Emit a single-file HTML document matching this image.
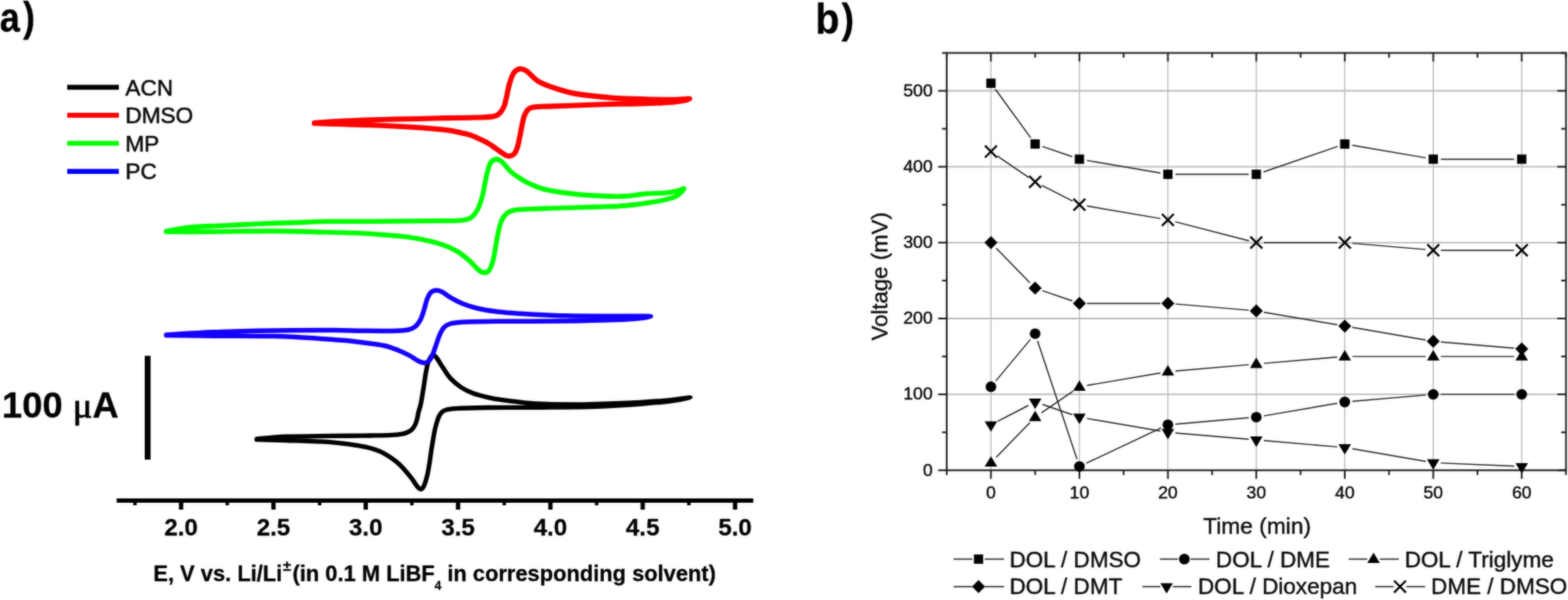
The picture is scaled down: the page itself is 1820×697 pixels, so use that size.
<!DOCTYPE html>
<html lang="en">
<head>
<meta charset="utf-8">
<title>Figure: cyclic voltammograms and voltage vs. time</title>
<style>
html,body{margin:0;padding:0;background:#fff;}
body{width:1820px;height:697px;overflow:hidden;}
svg{display:block;}
text{font-family:"Liberation Sans",sans-serif;fill:#0a0a0a;}
.r{stroke:#0a0a0a;stroke-width:0.45px;stroke-linejoin:round;}
.b{font-weight:bold;fill:#000;stroke:#000;stroke-width:0.3px;}
.cv{fill:none;stroke-linecap:round;stroke-linejoin:round;}
</style>
</head>
<body>
<svg width="1820" height="697" viewBox="0 0 1820 697">
<defs><filter id="soft" x="0" y="0" width="100%" height="100%" filterUnits="userSpaceOnUse" color-interpolation-filters="sRGB"><feGaussianBlur in="SourceGraphic" stdDeviation="0.9" result="bl"/><feComposite in="SourceGraphic" in2="bl" operator="arithmetic" k1="0" k2="0.45" k3="0.55" k4="0"/></filter></defs>
<rect x="0" y="0" width="1820" height="697" fill="#fff"/>
<g filter="url(#soft)">
<rect x="-10" y="-10" width="1840" height="717" fill="#fff"/>
<g id="panel-a">
<text class="b" transform="translate(-0.3,36.8) scale(0.86,1)" font-size="48.7">a<tspan dx="4.4" dy="-1.3" font-size="48.3">)</tspan></text>
<line x1="78" y1="101.3" x2="138" y2="101.3" stroke="#000" stroke-width="5.7"/>
<text class="r" style="stroke-width:0.6px" x="145.4" y="110.6" font-size="26.3">ACN</text>
<line x1="78" y1="133.9" x2="138" y2="133.9" stroke="#ff0000" stroke-width="5.7"/>
<text class="r" style="stroke-width:0.6px" x="145.4" y="143.2" font-size="26.3">DMSO</text>
<line x1="78" y1="166.5" x2="138" y2="166.5" stroke="#00ff00" stroke-width="5.7"/>
<text class="r" style="stroke-width:0.6px" x="145.4" y="175.8" font-size="26.3">MP</text>
<line x1="78" y1="199.1" x2="138" y2="199.1" stroke="#0000ff" stroke-width="5.7"/>
<text class="r" style="stroke-width:0.6px" x="145.4" y="208.4" font-size="26.3">PC</text>
<path class="cv" d="M298.0 510.0C303.6 509.5 317.5 507.8 331.7 507.2C345.9 506.6 368.6 506.6 383.3 506.4C398.0 506.2 411.4 506.3 420.0 506.2C428.6 506.1 429.3 506.0 435.0 505.9C440.7 505.8 448.9 505.6 454.4 505.3C459.9 505.0 464.8 504.4 468.2 503.8C471.6 503.2 472.7 502.5 474.5 501.5C476.3 500.5 477.7 499.5 479.0 498.0C480.3 496.5 481.4 494.5 482.3 492.5C483.2 490.5 483.7 488.3 484.3 486.0C484.9 483.7 485.1 481.4 485.8 478.6C486.5 475.8 487.5 473.8 488.5 469.0C489.5 464.2 490.7 456.0 491.7 450.0C492.7 444.0 493.4 437.8 494.3 433.0C495.2 428.2 495.8 424.6 496.8 421.5C497.8 418.4 499.2 415.6 500.2 414.2C501.2 412.8 501.9 412.7 503.0 412.9C504.1 413.1 504.8 413.1 506.7 415.5C508.6 417.9 511.7 423.5 514.4 427.5C517.1 431.5 519.5 435.9 523.0 439.6C526.5 443.3 530.8 447.0 535.1 449.9C539.4 452.8 543.7 454.9 548.9 456.8C554.1 458.8 560.4 460.3 566.1 461.6C571.8 462.9 576.1 463.7 583.3 464.7C590.5 465.7 600.5 467.0 609.1 467.8C617.7 468.6 625.6 469.1 634.9 469.5C644.2 469.9 655.5 469.9 665.0 469.9C674.5 469.9 678.6 469.8 691.6 469.4C704.6 469.0 728.9 468.1 743.3 467.3C757.6 466.5 768.0 465.7 777.7 464.8C787.4 463.9 801.3 461.6 801.3 461.8C801.3 462.0 787.4 464.8 777.7 466.0C768.0 467.2 757.6 468.2 743.3 469.3C728.9 470.4 708.8 471.7 691.6 472.3C674.4 472.9 652.3 473.0 640.0 473.2C627.7 473.4 630.0 473.2 617.7 473.3C605.4 473.4 580.4 473.3 566.1 473.5C551.8 473.7 539.9 473.9 531.9 474.3C523.9 474.7 521.4 475.3 518.2 476.0C515.1 476.7 514.5 477.3 513.0 478.6C511.6 479.9 510.5 481.8 509.5 483.8C508.5 485.8 507.9 487.8 507.0 490.7C506.1 493.6 505.4 495.8 504.4 501.0C503.4 506.2 501.9 515.4 500.9 521.7C499.9 528.0 499.2 533.7 498.4 538.9C497.5 544.1 496.8 548.6 495.8 552.7C494.8 556.8 493.6 560.9 492.5 563.5C491.4 566.1 490.1 567.9 488.9 568.3C487.6 568.7 487.0 568.3 485.0 566.0C483.0 563.7 480.4 558.9 476.8 554.4C473.2 549.9 468.3 543.5 463.1 538.9C457.9 534.3 450.7 529.7 445.8 526.8C440.9 523.9 438.1 523.1 433.8 521.7C429.5 520.3 424.1 519.3 420.0 518.5C415.9 517.7 415.2 517.5 409.1 516.7C403.0 515.9 396.2 514.5 383.3 513.6C370.4 512.8 345.9 512.1 331.7 511.6C317.5 511.1 303.6 510.8 298.0 510.6" stroke="#000" stroke-width="5.3"/>
<path class="cv" d="M365.0 142.7C370.8 142.3 389.1 141.2 400.0 140.6C410.9 140.0 418.6 139.7 430.3 139.3C442.0 138.9 456.6 138.6 470.0 138.3C483.4 138.0 498.1 137.6 510.6 137.3C523.1 137.0 536.6 136.9 545.0 136.7C553.4 136.5 556.6 136.5 560.8 136.3C565.0 136.1 567.8 135.9 570.2 135.6C572.6 135.3 573.6 135.1 575.0 134.6C576.4 134.1 577.3 133.8 578.5 132.8C579.7 131.8 581.3 130.1 582.4 128.5C583.5 126.9 584.4 125.4 585.3 123.0C586.2 120.6 586.6 118.3 587.6 114.2C588.6 110.1 589.7 103.1 591.1 98.2C592.5 93.3 594.1 88.1 596.1 85.1C598.1 82.1 600.7 80.5 603.2 80.1C605.7 79.7 607.7 80.2 611.2 82.5C614.7 84.8 619.4 91.0 624.3 94.1C629.1 97.2 634.3 99.0 640.3 101.2C646.3 103.4 653.7 105.6 660.4 107.2C667.1 108.8 670.5 109.4 680.5 110.6C690.5 111.8 707.2 113.6 720.6 114.4C734.0 115.2 750.8 115.4 760.8 115.6C770.8 115.8 774.3 115.8 780.9 115.7C787.5 115.6 800.5 114.5 800.5 115.0C800.5 115.5 790.9 117.7 780.9 118.6C770.9 119.5 754.1 120.0 740.7 120.4C727.3 120.8 714.0 120.8 700.6 121.2C687.2 121.6 671.3 122.3 660.4 122.7C649.5 123.1 641.6 123.3 635.0 123.6C628.4 123.9 624.6 123.7 621.0 124.3C617.4 124.9 615.3 125.2 613.2 127.0C611.1 128.8 609.7 131.6 608.4 135.1C607.1 138.6 606.3 143.9 605.4 148.1C604.5 152.3 603.9 156.5 603.1 160.2C602.3 163.9 601.8 167.1 600.8 170.2C599.8 173.3 598.5 176.8 597.0 178.6C595.5 180.4 593.2 181.0 591.6 181.3C590.0 181.6 588.9 181.2 587.3 180.5C585.7 179.8 584.2 178.6 582.2 177.2C580.2 175.8 578.0 174.1 575.2 172.2C572.4 170.3 568.6 167.6 565.2 165.7C561.9 163.8 558.5 162.2 555.1 160.7C551.8 159.2 549.0 157.8 545.1 156.6C541.2 155.4 536.2 154.5 532.0 153.6C527.8 152.7 523.6 151.9 520.0 151.3C516.4 150.7 518.9 150.9 510.6 150.2C502.4 149.5 483.9 148.1 470.5 147.3C457.1 146.5 442.1 145.8 430.3 145.3C418.6 144.8 410.9 144.6 400.0 144.3C389.1 144.0 370.8 143.5 365.0 143.3" stroke="#ff0000" stroke-width="6.1"/>
<path class="cv" d="M193.0 268.6C197.5 267.8 209.0 265.1 220.2 264.0C231.4 262.9 246.6 262.7 260.0 262.0C273.4 261.3 287.2 260.6 300.5 260.0C313.8 259.4 326.6 259.1 340.0 258.6C353.4 258.2 365.8 257.5 380.8 257.3C395.8 257.1 412.0 257.3 430.0 257.2C448.0 257.1 473.9 256.9 488.9 256.8C503.9 256.7 512.4 256.6 520.0 256.5C527.6 256.4 530.4 256.7 534.8 256.1C539.2 255.5 543.0 255.2 546.3 253.1C549.5 251.0 552.0 247.8 554.3 243.5C556.6 239.2 558.3 233.9 560.0 227.4C561.7 220.9 563.1 210.7 564.6 204.4C566.1 198.1 567.3 192.8 569.2 189.5C571.1 186.2 573.8 185.1 576.1 184.9C578.4 184.7 580.3 186.1 583.0 188.4C585.7 190.7 589.2 195.8 592.2 198.7C595.2 201.5 597.4 203.1 601.0 205.5C604.6 207.9 608.2 210.5 613.8 213.0C619.4 215.5 625.2 218.4 634.4 220.5C643.6 222.6 657.4 224.4 668.9 225.6C680.4 226.8 693.7 227.5 703.3 227.9C712.9 228.3 718.6 228.4 726.3 227.9C733.9 227.4 741.6 225.8 749.2 225.1C756.9 224.4 766.1 224.6 772.2 224.0C778.3 223.4 782.4 222.5 786.0 221.7C789.6 220.9 794.4 218.2 794.0 219.3C793.6 220.4 789.2 226.0 783.7 228.5C778.2 231.0 770.3 232.6 760.7 234.3C751.1 236.0 737.8 237.9 726.3 238.9C714.8 239.9 705.2 239.9 691.8 240.4C678.4 240.9 656.8 241.4 645.9 241.7C635.0 242.0 634.4 242.1 626.6 242.4C618.8 242.8 605.4 242.9 599.1 243.8C592.8 244.7 591.6 245.4 588.7 247.6C585.8 249.8 583.7 252.5 581.8 257.2C579.9 261.9 578.7 268.3 577.2 275.6C575.7 282.9 574.2 294.6 572.7 300.9C571.2 307.2 569.8 310.8 568.1 313.5C566.4 316.2 564.4 316.9 562.3 316.9C560.2 316.9 558.4 316.0 555.4 313.5C552.4 311.0 548.2 305.6 544.0 302.0C539.8 298.4 535.6 294.8 530.2 291.7C524.8 288.6 518.7 285.9 511.8 283.6C504.9 281.3 496.5 279.4 488.9 277.9C481.2 276.4 473.5 275.4 465.9 274.5C458.2 273.6 450.6 273.2 443.0 272.6C435.4 272.0 430.4 271.5 420.0 271.0C409.6 270.5 397.4 270.2 380.8 269.8C364.2 269.4 340.7 268.5 320.6 268.4C300.5 268.3 276.7 268.8 260.0 269.0C243.3 269.2 231.4 269.4 220.2 269.4C209.0 269.4 197.5 269.2 193.0 269.2" stroke="#00ff00" stroke-width="5.6"/>
<path class="cv" d="M193.0 388.9C202.3 388.4 228.1 386.6 248.9 385.8C269.7 385.0 294.8 384.4 317.7 384.0C340.6 383.6 369.6 383.6 386.6 383.6C403.7 383.7 408.7 384.2 420.0 384.3C431.3 384.4 445.5 384.6 454.4 384.4C463.3 384.2 468.8 384.1 473.4 383.3C478.0 382.5 479.6 381.3 482.0 379.4C484.4 377.4 486.3 374.9 488.0 371.6C489.7 368.3 491.0 363.6 492.3 359.6C493.6 355.6 494.4 350.8 495.7 347.5C497.0 344.2 498.3 341.5 500.0 339.8C501.7 338.1 504.0 337.4 506.1 337.2C508.2 337.0 510.0 337.5 512.9 338.9C515.8 340.3 519.3 343.5 523.3 345.8C527.3 348.1 531.8 350.6 537.0 352.7C542.2 354.8 548.0 356.7 554.3 358.2C560.6 359.7 568.6 360.9 574.9 361.8C581.2 362.7 585.5 363.0 592.1 363.5C598.7 364.0 603.5 364.3 614.4 364.9C625.3 365.4 643.1 366.4 657.5 366.8C671.9 367.2 687.6 367.2 700.5 367.3C713.4 367.4 725.7 367.3 734.9 367.3C744.1 367.3 755.5 366.9 755.5 367.5C755.5 368.1 744.1 369.9 734.9 370.6C725.7 371.4 714.9 371.6 700.5 372.0C686.1 372.4 669.7 372.8 648.8 373.0C627.9 373.2 592.9 373.1 574.9 373.3C556.9 373.5 549.1 373.6 540.5 374.0C531.9 374.4 527.5 374.9 523.3 375.9C519.1 376.9 517.6 378.0 515.5 380.2C513.4 382.4 512.0 385.4 510.4 388.8C508.8 392.2 507.5 396.9 506.1 400.9C504.7 404.9 503.2 409.8 501.8 412.9C500.4 416.0 499.1 418.4 497.5 419.8C495.9 421.2 494.2 421.5 492.3 421.5C490.4 421.5 489.2 421.2 486.3 419.8C483.4 418.4 479.0 415.0 475.1 412.9C471.2 410.8 467.9 409.1 463.0 407.2C458.1 405.3 453.0 403.1 445.8 401.5C438.6 399.9 427.0 398.6 420.0 397.7C413.0 396.8 412.2 396.6 403.8 395.8C395.4 395.1 383.8 394.1 369.4 393.2C355.0 392.3 337.8 391.1 317.7 390.6C297.6 390.1 269.7 390.4 248.9 390.2C228.1 390.0 202.3 389.6 193.0 389.5" stroke="#1400ff" stroke-width="5.5"/>
<rect x="168" y="413.3" width="6.8" height="120.6" fill="#000"/>
<text class="b" x="2.2" y="484.8" font-size="42.3">100 <tspan font-family="'Liberation Serif',serif" font-weight="normal" stroke="#000" stroke-width="0.9">μ</tspan>A</text>
<rect x="135.4" y="579" width="739" height="5" fill="#000"/>
<rect x="154.6" y="582" width="4" height="5" fill="#000"/>
<rect x="207.7" y="582" width="5" height="10" fill="#000"/>
<text class="b" x="210.2" y="622.3" font-size="28" text-anchor="middle">2.0</text>
<rect x="261.8" y="582" width="4" height="5" fill="#000"/>
<rect x="314.9" y="582" width="5" height="10" fill="#000"/>
<text class="b" x="317.4" y="622.3" font-size="28" text-anchor="middle">2.5</text>
<rect x="369.0" y="582" width="4" height="5" fill="#000"/>
<rect x="422.0" y="582" width="5" height="10" fill="#000"/>
<text class="b" x="424.5" y="622.3" font-size="28" text-anchor="middle">3.0</text>
<rect x="476.1" y="582" width="4" height="5" fill="#000"/>
<rect x="529.2" y="582" width="5" height="10" fill="#000"/>
<text class="b" x="531.7" y="622.3" font-size="28" text-anchor="middle">3.5</text>
<rect x="583.3" y="582" width="4" height="5" fill="#000"/>
<rect x="636.4" y="582" width="5" height="10" fill="#000"/>
<text class="b" x="638.9" y="622.3" font-size="28" text-anchor="middle">4.0</text>
<rect x="690.5" y="582" width="4" height="5" fill="#000"/>
<rect x="743.5" y="582" width="5" height="10" fill="#000"/>
<text class="b" x="746.0" y="622.3" font-size="28" text-anchor="middle">4.5</text>
<rect x="797.6" y="582" width="4" height="5" fill="#000"/>
<rect x="850.7" y="582" width="5" height="10" fill="#000"/>
<text class="b" x="853.2" y="622.3" font-size="28" text-anchor="middle">5.0</text>
<text class="b" font-size="25.4"><tspan x="178" y="674.8">E, V vs. Li/Li</tspan><tspan x="328.6" y="662.8" font-size="17">±</tspan><tspan x="339.5" y="674.8">(in 0.1 M LiBF</tspan><tspan x="504.6" y="684.7" font-size="14">4</tspan><tspan x="512.2" y="674.8"> in corresponding solvent)</tspan></text>
</g>
<g id="panel-b">
<text class="b" transform="translate(946.6,38.6) scale(0.91,1)" font-size="50">b<tspan dx="2.6" dy="-1" font-size="48.3">)</tspan></text>
<line x1="1150.2" y1="61.5" x2="1150.2" y2="546.3" stroke="#a4a4a4" stroke-width="1"/>
<line x1="1252.9" y1="61.5" x2="1252.9" y2="546.3" stroke="#a4a4a4" stroke-width="1"/>
<line x1="1355.6" y1="61.5" x2="1355.6" y2="546.3" stroke="#a4a4a4" stroke-width="1"/>
<line x1="1458.2" y1="61.5" x2="1458.2" y2="546.3" stroke="#a4a4a4" stroke-width="1"/>
<line x1="1560.9" y1="61.5" x2="1560.9" y2="546.3" stroke="#a4a4a4" stroke-width="1"/>
<line x1="1663.6" y1="61.5" x2="1663.6" y2="546.3" stroke="#a4a4a4" stroke-width="1"/>
<line x1="1766.3" y1="61.5" x2="1766.3" y2="546.3" stroke="#a4a4a4" stroke-width="1"/>
<line x1="1098.9" y1="458.1" x2="1817.6" y2="458.1" stroke="#bcbcbc" stroke-width="1.8"/>
<line x1="1098.9" y1="370.0" x2="1817.6" y2="370.0" stroke="#bcbcbc" stroke-width="1.8"/>
<line x1="1098.9" y1="281.8" x2="1817.6" y2="281.8" stroke="#bcbcbc" stroke-width="1.8"/>
<line x1="1098.9" y1="193.7" x2="1817.6" y2="193.7" stroke="#bcbcbc" stroke-width="1.8"/>
<line x1="1098.9" y1="105.5" x2="1817.6" y2="105.5" stroke="#bcbcbc" stroke-width="1.8"/>
<rect x="1098.9" y="61.5" width="718.8" height="484.8" fill="none" stroke="#1c1c1c" stroke-width="2"/>
<line x1="1098.9" y1="546.3" x2="1098.9" y2="551.8" stroke="#1c1c1c" stroke-width="2"/>
<line x1="1098.9" y1="61.5" x2="1098.9" y2="67.0" stroke="#1c1c1c" stroke-width="2"/>
<line x1="1150.2" y1="546.3" x2="1150.2" y2="556.3" stroke="#1c1c1c" stroke-width="2"/>
<line x1="1150.2" y1="61.5" x2="1150.2" y2="71.5" stroke="#1c1c1c" stroke-width="2"/>
<text class="r" x="1150.2" y="579.3" font-size="20.5" text-anchor="middle">0</text>
<line x1="1201.5" y1="546.3" x2="1201.5" y2="551.8" stroke="#1c1c1c" stroke-width="2"/>
<line x1="1201.5" y1="61.5" x2="1201.5" y2="67.0" stroke="#1c1c1c" stroke-width="2"/>
<line x1="1252.9" y1="546.3" x2="1252.9" y2="556.3" stroke="#1c1c1c" stroke-width="2"/>
<line x1="1252.9" y1="61.5" x2="1252.9" y2="71.5" stroke="#1c1c1c" stroke-width="2"/>
<text class="r" x="1252.9" y="579.3" font-size="20.5" text-anchor="middle">10</text>
<line x1="1304.2" y1="546.3" x2="1304.2" y2="551.8" stroke="#1c1c1c" stroke-width="2"/>
<line x1="1304.2" y1="61.5" x2="1304.2" y2="67.0" stroke="#1c1c1c" stroke-width="2"/>
<line x1="1355.6" y1="546.3" x2="1355.6" y2="556.3" stroke="#1c1c1c" stroke-width="2"/>
<line x1="1355.6" y1="61.5" x2="1355.6" y2="71.5" stroke="#1c1c1c" stroke-width="2"/>
<text class="r" x="1355.6" y="579.3" font-size="20.5" text-anchor="middle">20</text>
<line x1="1406.9" y1="546.3" x2="1406.9" y2="551.8" stroke="#1c1c1c" stroke-width="2"/>
<line x1="1406.9" y1="61.5" x2="1406.9" y2="67.0" stroke="#1c1c1c" stroke-width="2"/>
<line x1="1458.2" y1="546.3" x2="1458.2" y2="556.3" stroke="#1c1c1c" stroke-width="2"/>
<line x1="1458.2" y1="61.5" x2="1458.2" y2="71.5" stroke="#1c1c1c" stroke-width="2"/>
<text class="r" x="1458.2" y="579.3" font-size="20.5" text-anchor="middle">30</text>
<line x1="1509.6" y1="546.3" x2="1509.6" y2="551.8" stroke="#1c1c1c" stroke-width="2"/>
<line x1="1509.6" y1="61.5" x2="1509.6" y2="67.0" stroke="#1c1c1c" stroke-width="2"/>
<line x1="1560.9" y1="546.3" x2="1560.9" y2="556.3" stroke="#1c1c1c" stroke-width="2"/>
<line x1="1560.9" y1="61.5" x2="1560.9" y2="71.5" stroke="#1c1c1c" stroke-width="2"/>
<text class="r" x="1560.9" y="579.3" font-size="20.5" text-anchor="middle">40</text>
<line x1="1612.3" y1="546.3" x2="1612.3" y2="551.8" stroke="#1c1c1c" stroke-width="2"/>
<line x1="1612.3" y1="61.5" x2="1612.3" y2="67.0" stroke="#1c1c1c" stroke-width="2"/>
<line x1="1663.6" y1="546.3" x2="1663.6" y2="556.3" stroke="#1c1c1c" stroke-width="2"/>
<line x1="1663.6" y1="61.5" x2="1663.6" y2="71.5" stroke="#1c1c1c" stroke-width="2"/>
<text class="r" x="1663.6" y="579.3" font-size="20.5" text-anchor="middle">50</text>
<line x1="1714.9" y1="546.3" x2="1714.9" y2="551.8" stroke="#1c1c1c" stroke-width="2"/>
<line x1="1714.9" y1="61.5" x2="1714.9" y2="67.0" stroke="#1c1c1c" stroke-width="2"/>
<line x1="1766.3" y1="546.3" x2="1766.3" y2="556.3" stroke="#1c1c1c" stroke-width="2"/>
<line x1="1766.3" y1="61.5" x2="1766.3" y2="71.5" stroke="#1c1c1c" stroke-width="2"/>
<text class="r" x="1766.3" y="579.3" font-size="20.5" text-anchor="middle">60</text>
<line x1="1817.6" y1="546.3" x2="1817.6" y2="551.8" stroke="#1c1c1c" stroke-width="2"/>
<line x1="1817.6" y1="61.5" x2="1817.6" y2="67.0" stroke="#1c1c1c" stroke-width="2"/>
<line x1="1088.9" y1="546.3" x2="1098.9" y2="546.3" stroke="#1c1c1c" stroke-width="2"/>
<line x1="1807.6" y1="546.3" x2="1817.6" y2="546.3" stroke="#1c1c1c" stroke-width="2"/>
<text class="r" x="1082.7" y="552.5" font-size="20.5" text-anchor="end">0</text>
<line x1="1093.4" y1="502.2" x2="1098.9" y2="502.2" stroke="#1c1c1c" stroke-width="2"/>
<line x1="1812.1" y1="502.2" x2="1817.6" y2="502.2" stroke="#1c1c1c" stroke-width="2"/>
<line x1="1088.9" y1="458.1" x2="1098.9" y2="458.1" stroke="#1c1c1c" stroke-width="2"/>
<line x1="1807.6" y1="458.1" x2="1817.6" y2="458.1" stroke="#1c1c1c" stroke-width="2"/>
<text class="r" x="1082.7" y="464.3" font-size="20.5" text-anchor="end">100</text>
<line x1="1093.4" y1="414.1" x2="1098.9" y2="414.1" stroke="#1c1c1c" stroke-width="2"/>
<line x1="1812.1" y1="414.1" x2="1817.6" y2="414.1" stroke="#1c1c1c" stroke-width="2"/>
<line x1="1088.9" y1="370.0" x2="1098.9" y2="370.0" stroke="#1c1c1c" stroke-width="2"/>
<line x1="1807.6" y1="370.0" x2="1817.6" y2="370.0" stroke="#1c1c1c" stroke-width="2"/>
<text class="r" x="1082.7" y="376.2" font-size="20.5" text-anchor="end">200</text>
<line x1="1093.4" y1="325.9" x2="1098.9" y2="325.9" stroke="#1c1c1c" stroke-width="2"/>
<line x1="1812.1" y1="325.9" x2="1817.6" y2="325.9" stroke="#1c1c1c" stroke-width="2"/>
<line x1="1088.9" y1="281.8" x2="1098.9" y2="281.8" stroke="#1c1c1c" stroke-width="2"/>
<line x1="1807.6" y1="281.8" x2="1817.6" y2="281.8" stroke="#1c1c1c" stroke-width="2"/>
<text class="r" x="1082.7" y="288.0" font-size="20.5" text-anchor="end">300</text>
<line x1="1093.4" y1="237.8" x2="1098.9" y2="237.8" stroke="#1c1c1c" stroke-width="2"/>
<line x1="1812.1" y1="237.8" x2="1817.6" y2="237.8" stroke="#1c1c1c" stroke-width="2"/>
<line x1="1088.9" y1="193.7" x2="1098.9" y2="193.7" stroke="#1c1c1c" stroke-width="2"/>
<line x1="1807.6" y1="193.7" x2="1817.6" y2="193.7" stroke="#1c1c1c" stroke-width="2"/>
<text class="r" x="1082.7" y="199.9" font-size="20.5" text-anchor="end">400</text>
<line x1="1093.4" y1="149.6" x2="1098.9" y2="149.6" stroke="#1c1c1c" stroke-width="2"/>
<line x1="1812.1" y1="149.6" x2="1817.6" y2="149.6" stroke="#1c1c1c" stroke-width="2"/>
<line x1="1088.9" y1="105.5" x2="1098.9" y2="105.5" stroke="#1c1c1c" stroke-width="2"/>
<line x1="1807.6" y1="105.5" x2="1817.6" y2="105.5" stroke="#1c1c1c" stroke-width="2"/>
<text class="r" x="1082.7" y="111.7" font-size="20.5" text-anchor="end">500</text>
<line x1="1093.4" y1="61.5" x2="1098.9" y2="61.5" stroke="#1c1c1c" stroke-width="2"/>
<line x1="1812.1" y1="61.5" x2="1817.6" y2="61.5" stroke="#1c1c1c" stroke-width="2"/>
<text class="r" x="1396.6" y="620.4" font-size="26.4">Time (min)</text>
<text class="r" transform="translate(1030,395.6) rotate(-90)" font-size="25.8">Voltage (mV)</text>
<path d="M1155.4 103.8L1196.4 160.1M1209.9 170.1L1244.6 182.0M1261.6 186.4L1346.9 201.0M1364.4 202.5L1449.4 202.5M1466.6 199.7L1552.6 170.1M1569.6 168.7L1654.9 183.4M1672.4 184.9L1757.5 184.9" stroke="#222" stroke-width="1.45" fill="none"/>
<rect x="1144.8" y="91.3" width="10.8" height="10.8" fill="#000"/>
<rect x="1196.1" y="161.9" width="10.8" height="10.8" fill="#000"/>
<rect x="1247.5" y="179.5" width="10.8" height="10.8" fill="#000"/>
<rect x="1350.2" y="197.1" width="10.8" height="10.8" fill="#000"/>
<rect x="1452.8" y="197.1" width="10.8" height="10.8" fill="#000"/>
<rect x="1555.5" y="161.9" width="10.8" height="10.8" fill="#000"/>
<rect x="1658.2" y="179.5" width="10.8" height="10.8" fill="#000"/>
<rect x="1760.9" y="179.5" width="10.8" height="10.8" fill="#000"/>
<path d="M1155.8 442.6L1195.9 394.4M1204.3 396.0L1250.1 533.5M1260.8 538.1L1347.6 497.2M1364.3 492.7L1449.5 485.3M1466.9 483.1L1552.2 468.5M1569.7 466.2L1654.8 458.9M1672.4 458.1L1757.5 458.1" stroke="#222" stroke-width="1.45" fill="none"/>
<circle cx="1150.2" cy="449.3" r="6.2" fill="#000"/>
<circle cx="1201.5" cy="387.6" r="6.2" fill="#000"/>
<circle cx="1252.9" cy="541.9" r="6.2" fill="#000"/>
<circle cx="1355.6" cy="493.4" r="6.2" fill="#000"/>
<circle cx="1458.2" cy="484.6" r="6.2" fill="#000"/>
<circle cx="1560.9" cy="467.0" r="6.2" fill="#000"/>
<circle cx="1663.6" cy="458.1" r="6.2" fill="#000"/>
<circle cx="1766.3" cy="458.1" r="6.2" fill="#000"/>
<path d="M1156.3 531.2L1195.4 490.9M1208.8 479.6L1245.6 454.3M1261.6 447.8L1346.9 433.2M1364.3 431.0L1449.5 423.6M1467.0 422.1L1552.2 414.8M1569.7 414.1L1654.8 414.1M1672.4 414.1L1757.5 414.1" stroke="#222" stroke-width="1.45" fill="none"/>
<path d="M1150.2 529.9 L1157.5 542.1 L1142.9 542.1 Z" fill="#000"/>
<path d="M1201.5 477.0 L1208.8 489.2 L1194.2 489.2 Z" fill="#000"/>
<path d="M1252.9 441.7 L1260.2 453.9 L1245.6 453.9 Z" fill="#000"/>
<path d="M1355.6 424.1 L1362.9 436.3 L1348.3 436.3 Z" fill="#000"/>
<path d="M1458.2 415.3 L1465.5 427.5 L1450.9 427.5 Z" fill="#000"/>
<path d="M1560.9 406.5 L1568.2 418.7 L1553.6 418.7 Z" fill="#000"/>
<path d="M1663.6 406.5 L1670.9 418.7 L1656.3 418.7 Z" fill="#000"/>
<path d="M1766.3 406.5 L1773.6 418.7 L1759.0 418.7 Z" fill="#000"/>
<path d="M1156.3 288.2L1195.4 328.4M1209.9 337.6L1244.6 349.5M1261.7 352.4L1346.8 352.4M1364.3 353.1L1449.5 360.4M1466.9 362.7L1552.2 377.3M1569.6 380.3L1654.9 395.0M1672.4 397.2L1757.5 404.5" stroke="#222" stroke-width="1.45" fill="none"/>
<path d="M1150.2 274.2 L1157.8 281.8 L1150.2 289.4 L1142.6 281.8 Z" fill="#000"/>
<path d="M1201.5 327.1 L1209.1 334.7 L1201.5 342.3 L1193.9 334.7 Z" fill="#000"/>
<path d="M1252.9 344.8 L1260.5 352.4 L1252.9 360.0 L1245.3 352.4 Z" fill="#000"/>
<path d="M1355.6 344.8 L1363.2 352.4 L1355.6 360.0 L1348.0 352.4 Z" fill="#000"/>
<path d="M1458.2 353.6 L1465.8 361.2 L1458.2 368.8 L1450.6 361.2 Z" fill="#000"/>
<path d="M1560.9 371.2 L1568.5 378.8 L1560.9 386.4 L1553.3 378.8 Z" fill="#000"/>
<path d="M1663.6 388.8 L1671.2 396.4 L1663.6 404.0 L1656.0 396.4 Z" fill="#000"/>
<path d="M1766.3 397.7 L1773.9 405.3 L1766.3 412.9 L1758.7 405.3 Z" fill="#000"/>
<path d="M1158.0 489.4L1193.7 471.0M1209.9 469.8L1244.6 481.7M1261.6 486.1L1346.9 500.7M1364.3 503.0L1449.5 510.3M1467.0 511.8L1552.2 519.1M1569.6 521.3L1654.9 536.0M1672.4 537.9L1757.5 541.5" stroke="#222" stroke-width="1.45" fill="none"/>
<path d="M1150.2 501.6 L1157.5 489.4 L1142.9 489.4 Z" fill="#000"/>
<path d="M1201.5 475.2 L1208.8 463.0 L1194.2 463.0 Z" fill="#000"/>
<path d="M1252.9 492.8 L1260.2 480.6 L1245.6 480.6 Z" fill="#000"/>
<path d="M1355.6 510.4 L1362.9 498.2 L1348.3 498.2 Z" fill="#000"/>
<path d="M1458.2 519.2 L1465.5 507.0 L1450.9 507.0 Z" fill="#000"/>
<path d="M1560.9 528.1 L1568.2 515.9 L1553.6 515.9 Z" fill="#000"/>
<path d="M1663.6 545.7 L1670.9 533.5 L1656.3 533.5 Z" fill="#000"/>
<path d="M1766.3 550.1 L1773.6 537.9 L1759.0 537.9 Z" fill="#000"/>
<path d="M1157.5 181.1L1194.3 206.3M1209.4 215.4L1245.1 233.7M1261.6 239.3L1346.9 253.9M1364.1 257.6L1449.7 279.7M1467.0 281.8L1552.1 281.8M1569.7 282.6L1654.8 289.9M1672.4 290.7L1757.5 290.7" stroke="#222" stroke-width="1.45" fill="none"/>
<path d="M1143.3 169.2 L1157.1 183.0 M1143.3 183.0 L1157.1 169.2" stroke="#000" stroke-width="2.4" fill="none"/>
<path d="M1194.6 204.4 L1208.4 218.2 M1194.6 218.2 L1208.4 204.4" stroke="#000" stroke-width="2.4" fill="none"/>
<path d="M1246.0 230.9 L1259.8 244.7 M1246.0 244.7 L1259.8 230.9" stroke="#000" stroke-width="2.4" fill="none"/>
<path d="M1348.7 248.5 L1362.5 262.3 M1348.7 262.3 L1362.5 248.5" stroke="#000" stroke-width="2.4" fill="none"/>
<path d="M1451.3 274.9 L1465.1 288.7 M1451.3 288.7 L1465.1 274.9" stroke="#000" stroke-width="2.4" fill="none"/>
<path d="M1554.0 274.9 L1567.8 288.7 M1554.0 288.7 L1567.8 274.9" stroke="#000" stroke-width="2.4" fill="none"/>
<path d="M1656.7 283.8 L1670.5 297.6 M1656.7 297.6 L1670.5 283.8" stroke="#000" stroke-width="2.4" fill="none"/>
<path d="M1759.4 283.8 L1773.2 297.6 M1759.4 297.6 L1773.2 283.8" stroke="#000" stroke-width="2.4" fill="none"/>
<path d="M1106.8 649.5H1128.5M1143.1 649.5H1165.5" stroke="#222" stroke-width="1.45" fill="none"/>
<rect x="1130.4" y="644.1" width="10.8" height="10.8" fill="#000"/>
<text class="r" x="1171.7" y="658.6" font-size="26.1">DOL / DMSO</text>
<path d="M1346.4 649.5H1367.4M1382.0 649.5H1403.9" stroke="#222" stroke-width="1.45" fill="none"/>
<circle cx="1374.7" cy="649.5" r="6.2" fill="#000"/>
<text class="r" x="1411.3" y="658.6" font-size="26.1">DOL / DME</text>
<path d="M1565.5 649.5H1587.0M1601.6 649.5H1623.7" stroke="#222" stroke-width="1.45" fill="none"/>
<path d="M1594.3 641.9 L1601.6 654.1 L1587.0 654.1 Z" fill="#000"/>
<text class="r" x="1630.4" y="658.6" font-size="26.1">DOL / Triglyme</text>
<path d="M1106.8 681.4H1128.5M1143.1 681.4H1165.5" stroke="#222" stroke-width="1.45" fill="none"/>
<path d="M1135.8 673.8 L1143.4 681.4 L1135.8 689.0 L1128.2 681.4 Z" fill="#000"/>
<text class="r" x="1171.7" y="689.9" font-size="26.1">DOL / DMT</text>
<path d="M1326.0 681.4H1346.8M1361.4 681.4H1382.8" stroke="#222" stroke-width="1.45" fill="none"/>
<path d="M1354.1 689.6 L1361.4 677.4 L1346.8 677.4 Z" fill="#000"/>
<text class="r" x="1390.5" y="689.9" font-size="26.1">DOL / Dioxepan</text>
<path d="M1596.2 681.4H1617.7M1632.3 681.4H1654.2" stroke="#222" stroke-width="1.45" fill="none"/>
<path d="M1618.1 674.5 L1631.9 688.3 M1618.1 688.3 L1631.9 674.5" stroke="#000" stroke-width="2.4" fill="none"/>
<text class="r" x="1661.1" y="689.9" font-size="26.1">DME / DMSO</text>
</g>
</g>
</svg>
</body>
</html>
